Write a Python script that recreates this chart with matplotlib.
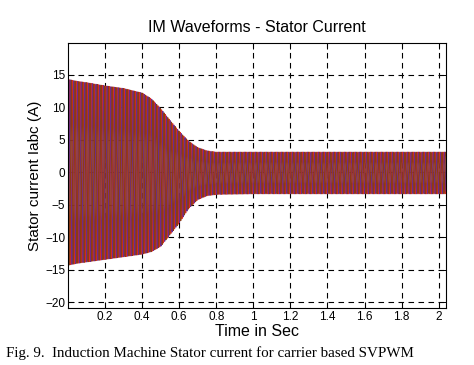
import matplotlib
import numpy as np

matplotlib.use("Agg")
import matplotlib.pyplot as plt  # noqa: E402

# upper / lower envelope of the phase currents (s, A)
env_time = [0.0, 0.05, 0.1, 0.2, 0.3, 0.4, 0.45, 0.5, 0.55, 0.6, 0.65, 0.7, 0.75, 0.8, 1.0, 2.04]
env_upper = [14.3, 14.0, 13.8, 13.3, 12.9, 12.2, 11.3, 9.8, 8.0, 6.3, 4.8, 3.8, 3.3, 3.1, 3.1, 3.1]
env_lower = [-14.3, -14.0, -13.8, -13.4, -13.0, -12.6, -12.2, -11.4, -9.6, -7.8, -5.6, -4.2, -3.6, -3.4, -3.3, -3.3]
supply_hz = 50.0
phase_names = ["ia", "ib", "ic"]
phase_shift_deg = [0, -120, 120]
phase_colors = ["#dc2a22", "#6a2c8c", "#8c3a14"]

x_ticks = [0.2, 0.4, 0.6, 0.8, 1.0, 1.2, 1.4, 1.6, 1.8, 2.0]
x_tick_labels = ["0.2", "0.4", "0.6", "0.8", "1", "1.2", "1.4", "1.6", "1.8", "2"]
y_ticks = [-20, -15, -10, -5, 0, 5, 10, 15]

title = "IM Waveforms - Stator Current"
x_label = "Time in Sec"
y_label = "Stator current Iabc (A)"
caption = "Fig. 9.  Induction Machine Stator current for carrier based SVPWM"


def main() -> None:
    plt.rcParams["font.family"] = ["Liberation Sans", "DejaVu Sans"]
    fig = plt.figure(figsize=(4.74, 3.65), dpi=100)
    ax = fig.add_axes([0.1435, 0.156, 0.7975, 0.726])

    t = np.linspace(0.0, 2.04, 40801)
    upper = np.interp(t, env_time, env_upper)
    lower = np.interp(t, env_time, env_lower)
    amp = (upper - lower) / 2
    mid = (upper + lower) / 2
    for name, shift, color in zip(phase_names, phase_shift_deg, phase_colors):
        current = mid + amp * np.sin(2 * np.pi * supply_hz * t + np.deg2rad(shift))
        ax.plot(t, current, color=color, linewidth=0.8, label=name)

    ax.set_xlim(0, 2.04)
    ax.set_ylim(-20.9, 19.9)
    ax.set_xticks(x_ticks)
    ax.set_xticklabels(x_tick_labels)
    ax.set_yticks(y_ticks)
    ax.tick_params(direction="in", length=4, width=0.7, top=True, right=True,
                   labelsize=8.5, pad=2)
    ax.grid(True, color="black", linestyle=(0, (5, 4)), linewidth=0.8)
    for spine in ax.spines.values():
        spine.set_linewidth(0.8)

    ax.set_title(title, fontsize=11.5, pad=8)
    ax.set_xlabel(x_label, fontsize=11.5, labelpad=1)
    ax.set_ylabel(y_label, fontsize=11, labelpad=2)
    fig.text(0.013, 0.022, caption, fontsize=10.8,
             family=["Liberation Serif", "DejaVu Serif"])

    fig.savefig("out.png", dpi=100)
    plt.close(fig)


if __name__ == "__main__":
    main()
